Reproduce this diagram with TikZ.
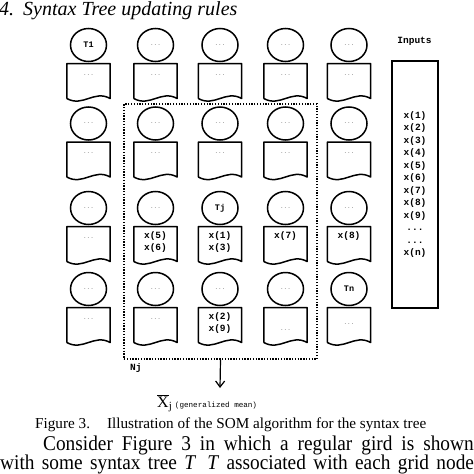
\documentclass[tikz,border=0pt]{standalone}
\usepackage{fontspec}
\setmainfont{Liberation Serif}
\newfontfamily\cour{Liberation Mono}
\usetikzlibrary{shapes.geometric,arrows.meta}

% small grey dots used in the empty cells
\newcommand{\dd}{{\mdseries\fontsize{6}{6}\selectfont\color{gray}...}}

\begin{document}
\begin{tikzpicture}[x=1pt,y=-1pt,
    tree/.style={draw,ellipse,line width=1.5pt,minimum width=36pt,minimum height=33pt,inner sep=0pt,
      font=\cour\bfseries\fontsize{8.5}{9}\selectfont},
    doc/.style={anchor=north,text width=43pt,inner xsep=0pt,inner ysep=3pt,align=center,
      font=\cour\bfseries\fontsize{9.5}{12}\selectfont,execute at begin node=\strut},
    outline/.style={line width=1.5pt,line join=round},
    lbl/.style={font=\cour\bfseries\fontsize{9.5}{12.5}\selectfont}]
  \useasboundingbox (0,0) rectangle (474,474);

  \node[anchor=base west,inner sep=0pt,font=\itshape\fontsize{20}{20}\selectfont] (head) at (-1,15)
    {4.\hspace{9pt}Syntax Tree updating rules};

  % the grid of trees
  \foreach \r/\c/\tl/\dl in {1/1/T1/\dd, 1/2/\dd/\dd, 1/3/\dd/\dd, 1/4/\dd/\dd, 1/5/\dd/\dd,
      2/1/\dd/\dd, 2/2/\dd/\dd, 2/3/\dd/\dd, 2/4/\dd/\dd, 2/5/\dd/\dd,
      3/1/\dd/\dd, 3/2/\dd/{x(5)\\x(6)}, 3/3/Tj/{x(1)\\x(3)}, 3/4/\dd/{x(7)}, 3/5/\dd/{x(8)},
      4/1/\dd/\dd, 4/2/\dd/\dd, 4/3/\dd/{x(2)\\x(9)}, 4/4/\dd/{\raisebox{-11pt}{\dd}}, 4/5/Tn/{\raisebox{-5pt}{\dd}}} {
    \pgfmathsetmacro{\cx}{{88.5,155.5,220,285.5,349}[\c-1]}
    \pgfmathsetmacro{\cy}{{45,123.5,208,289}[\r-1]}
    \node[tree] (t\r\c) at (\cx,\cy) {\tl};
    \node[doc] (d\r\c) at (\cx,\cy+18.5) {\dl};
    \draw[outline] ([yshift=-35pt]d\r\c.north west) -- (d\r\c.north west) -- (d\r\c.north east)
      -- ([yshift=-35pt]d\r\c.north east) .. controls +(-16,-9) and +(16,9) .. ([yshift=-35pt]d\r\c.north west);
  }

  % neighbourhood
  \node[draw,line width=1.3pt,dash pattern=on 1.3pt off 1.5pt,minimum width=193pt,minimum height=255pt,inner sep=0pt]
    (nj) at (220.5,231.5) {};
  \node[anchor=base west,inner sep=0pt,lbl] (njlab) at (130,370) {Nj};
  \coordinate (meanpt) at (220,388);
  \draw[line width=1.2pt,-{Straight Barb[length=6pt,width=9pt]}] (nj.south) -- (meanpt);
  \node[anchor=base west,inner sep=0pt] (mean) at (157,407)
    {\fontsize{16}{16}\selectfont$\overline{\mbox{X}}_{\mbox{\fontsize{11}{11}\selectfont j}}$\,{\cour\fontsize{7.6}{8}\selectfont(generalized mean)}};

  % inputs
  \node[lbl] (inlab) at (414.5,41) {Inputs};
  \node[draw,line width=1.3pt,minimum width=46pt,minimum height=247pt,align=center,lbl] (inputs) at (415,184.5)
    {x(1)\\x(2)\\x(3)\\x(4)\\x(5)\\x(6)\\x(7)\\x(8)\\x(9)\\...\\...\\x(n)};

  \node[anchor=base west,inner sep=0pt,font=\fontsize{15.2}{16}\selectfont] (cap) at (35,428)
    {Figure 3.\hspace{17pt}Illustration of the SOM algorithm for the syntax tree};
  \node[anchor=base west,inner sep=0pt,font=\fontsize{21}{22}\selectfont] (body1) at (43,450)
    {\scalebox{0.92}[1]{\makebox[468pt][s]{Consider Figure 3 in which a regular gird is shown}}};
  \node[anchor=base west,inner sep=0pt,font=\fontsize{21}{22}\selectfont] (body2) at (0,469.5)
    {\scalebox{0.92}[1]{\makebox[515pt][s]{with some syntax tree \textit{T}\hspace{12pt}\textit{T} associated with each grid node}}};
\end{tikzpicture}
\end{document}
